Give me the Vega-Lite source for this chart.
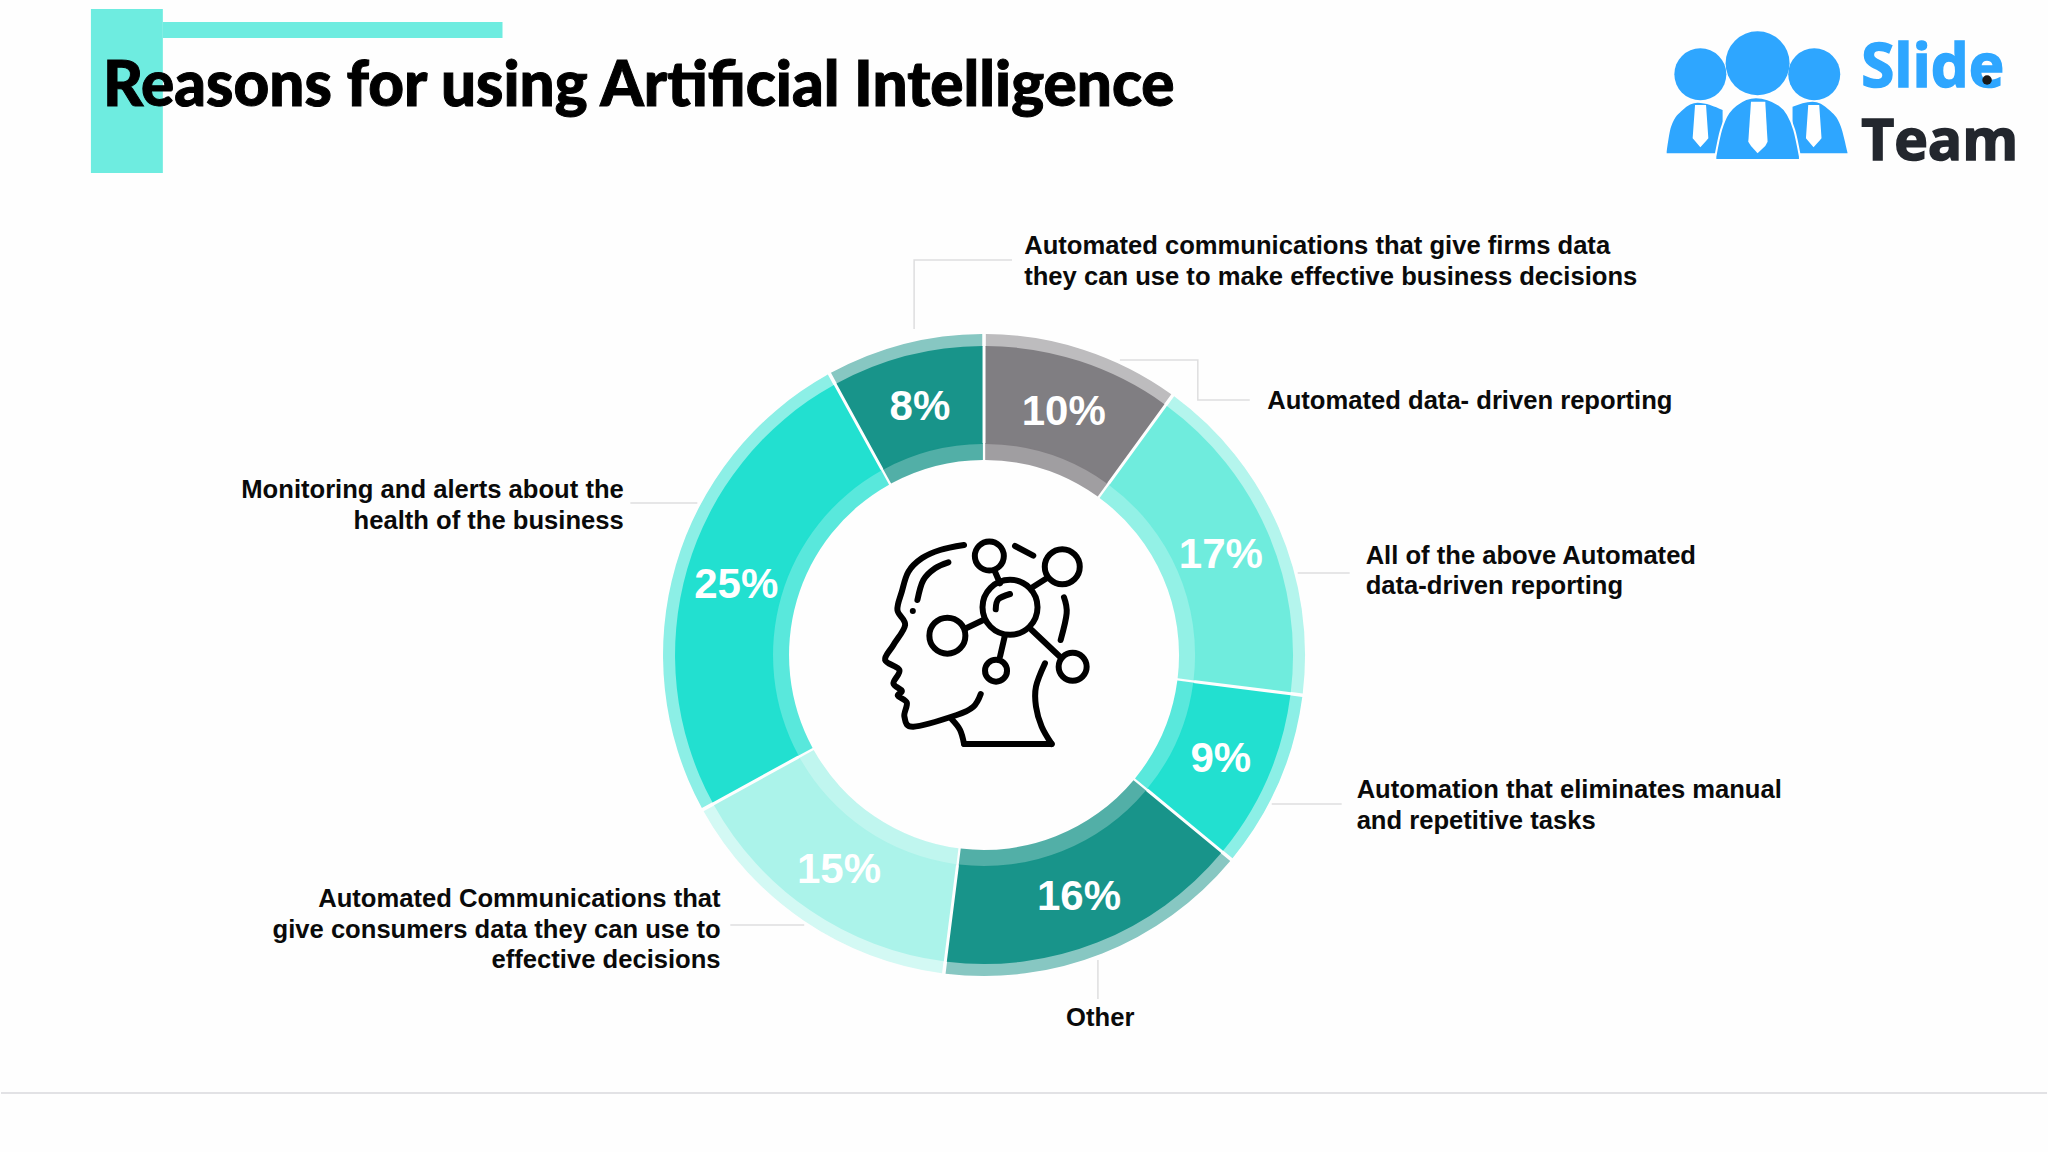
{
  "$schema": "https://vega.github.io/schema/vega-lite/v6.json",
  "width": 2048,
  "height": 1152,
  "padding": 0,
  "autosize": {"type": "fit", "contains": "padding"},
  "background": "#fefefe",
  "config": {"view": {"stroke": null}, "axis": {"disable": true}, "font": "Liberation Sans"},
  "datasets": {
    "reasons": [
      {"rank": 1, "reason": "Automated data- driven reporting", "value": 10, "label": "10%", "note": "Automated data- driven reporting"},
      {"rank": 2, "reason": "All of the above", "value": 17, "label": "17%", "note": ["All of the above Automated", "data-driven reporting"]},
      {"rank": 3, "reason": "Eliminates manual tasks", "value": 9, "label": "9%", "note": ["Automation that eliminates manual", "and repetitive tasks"]},
      {"rank": 4, "reason": "Other", "value": 16, "label": "16%", "note": "Other"},
      {"rank": 5, "reason": "Consumer communications", "value": 15, "label": "15%", "note": ["Automated Communications that", "give consumers data they can use to", "effective decisions"]},
      {"rank": 6, "reason": "Monitoring and alerts", "value": 25, "label": "25%", "note": ["Monitoring and alerts about the", "health of the business"]},
      {"rank": 7, "reason": "Firm communications", "value": 8, "label": "8%", "note": ["Automated communications that give firms data", "they can use to make effective business decisions"]}
    ],
    "leaders": [
      {"p": "8", "i": 1, "x": 914, "y": 329}, {"p": "8", "i": 2, "x": 914, "y": 260}, {"p": "8", "i": 3, "x": 1012, "y": 260},
      {"p": "10", "i": 1, "x": 1120, "y": 360}, {"p": "10", "i": 2, "x": 1198, "y": 360}, {"p": "10", "i": 3, "x": 1198, "y": 400}, {"p": "10", "i": 4, "x": 1250, "y": 400},
      {"p": "17", "i": 1, "x": 1298, "y": 573}, {"p": "17", "i": 2, "x": 1350, "y": 573},
      {"p": "9", "i": 1, "x": 1272, "y": 804}, {"p": "9", "i": 2, "x": 1342, "y": 804},
      {"p": "16", "i": 1, "x": 1098, "y": 960}, {"p": "16", "i": 2, "x": 1098, "y": 999},
      {"p": "15", "i": 1, "x": 730, "y": 925}, {"p": "15", "i": 2, "x": 804, "y": 925},
      {"p": "25", "i": 1, "x": 630, "y": 503}, {"p": "25", "i": 2, "x": 697, "y": 503}
    ],
    "headLines": [
      {"p": "h", "i": 1, "x": 964, "y": 545}, {"p": "h", "i": 2, "x": 940, "y": 550}, {"p": "h", "i": 3, "x": 921.7, "y": 558.3}, {"p": "h", "i": 4, "x": 908.3, "y": 571.7}, {"p": "h", "i": 5, "x": 901.7, "y": 591.7}, {"p": "h", "i": 6, "x": 897.3, "y": 610}, {"p": "h", "i": 7, "x": 905, "y": 625}, {"p": "h", "i": 8, "x": 893.3, "y": 645}, {"p": "h", "i": 9, "x": 885, "y": 660}, {"p": "h", "i": 10, "x": 899.3, "y": 670}, {"p": "h", "i": 11, "x": 893.3, "y": 683.3}, {"p": "h", "i": 12, "x": 901.7, "y": 690.7}, {"p": "h", "i": 13, "x": 897.7, "y": 695.7}, {"p": "h", "i": 14, "x": 906.7, "y": 702.7}, {"p": "h", "i": 15, "x": 904.3, "y": 716.7}, {"p": "h", "i": 16, "x": 913.3, "y": 726.7}, {"p": "h", "i": 17, "x": 956.7, "y": 715}, {"p": "h", "i": 18, "x": 973.3, "y": 706.7}, {"p": "h", "i": 19, "x": 980.7, "y": 694},
      {"p": "b", "i": 1, "x": 917.3, "y": 600}, {"p": "b", "i": 2, "x": 923.3, "y": 580}, {"p": "b", "i": 3, "x": 935, "y": 568.3}, {"p": "b", "i": 4, "x": 948.3, "y": 562.3},
      {"p": "n", "i": 1, "x": 951.7, "y": 719.3}, {"p": "n", "i": 2, "x": 960, "y": 730}, {"p": "n", "i": 3, "x": 964, "y": 744},
      {"p": "s", "i": 1, "x": 964, "y": 744}, {"p": "s", "i": 2, "x": 1051.7, "y": 744},
      {"p": "m", "i": 1, "x": 1051.7, "y": 744}, {"p": "m", "i": 2, "x": 1041.7, "y": 726.7}, {"p": "m", "i": 3, "x": 1036, "y": 706.7}, {"p": "m", "i": 4, "x": 1036, "y": 686.7}, {"p": "m", "i": 5, "x": 1045, "y": 663.3},
      {"p": "d1", "i": 1, "x": 1015, "y": 546}, {"p": "d1", "i": 2, "x": 1033.3, "y": 555.7},
      {"p": "d2", "i": 1, "x": 1064, "y": 597.3}, {"p": "d2", "i": 2, "x": 1066.7, "y": 613.3}, {"p": "d2", "i": 3, "x": 1060.7, "y": 640},
      {"p": "l1", "i": 1, "x": 995, "y": 571.7}, {"p": "l1", "i": 2, "x": 1000, "y": 583.3},
      {"p": "l2", "i": 1, "x": 1033.3, "y": 586.7}, {"p": "l2", "i": 2, "x": 1046.7, "y": 578.3},
      {"p": "l3", "i": 1, "x": 983.3, "y": 620}, {"p": "l3", "i": 2, "x": 966, "y": 628.3},
      {"p": "l4", "i": 1, "x": 1005, "y": 635}, {"p": "l4", "i": 2, "x": 1000, "y": 656.7},
      {"p": "l5", "i": 1, "x": 1031.7, "y": 630}, {"p": "l5", "i": 2, "x": 1060, "y": 656.7},
      {"p": "a", "i": 1, "x": 995.7, "y": 609.3}, {"p": "a", "i": 2, "x": 998.3, "y": 599.3}, {"p": "a", "i": 3, "x": 1010, "y": 594}
    ],
    "headNodes": [
      {"x": 1010, "y": 607.3, "area": 3025},
      {"x": 989.3, "y": 556, "area": 841},
      {"x": 1062.3, "y": 566.7, "area": 1225},
      {"x": 947.3, "y": 635.7, "area": 1296},
      {"x": 996, "y": 670.7, "area": 484},
      {"x": 1072.7, "y": 666.7, "area": 784}
    ],
    "logoBodies": [
      {"p": "left", "x": 1667.3, "y": 151.7, "y2": 153.3}, {"p": "left", "x": 1671.7, "y": 126.7, "y2": 153.3}, {"p": "left", "x": 1683.3, "y": 110, "y2": 153.3}, {"p": "left", "x": 1698.3, "y": 102.7, "y2": 153.3}, {"p": "left", "x": 1723.3, "y": 110, "y2": 153.3},
      {"p": "right", "x": 1793.3, "y": 106.7, "y2": 153.3}, {"p": "right", "x": 1813.3, "y": 101.7, "y2": 153.3}, {"p": "right", "x": 1830, "y": 110, "y2": 153.3}, {"p": "right", "x": 1841.7, "y": 126.7, "y2": 153.3}, {"p": "right", "x": 1848.3, "y": 152.7, "y2": 153.3}
    ],
    "logoCentre": [
      {"x": 1716, "y": 156.7, "y2": 160}, {"x": 1721.7, "y": 130, "y2": 160}, {"x": 1736.7, "y": 105, "y2": 160}, {"x": 1756.7, "y": 97.3, "y2": 160}, {"x": 1780, "y": 105, "y2": 160}, {"x": 1795, "y": 130, "y2": 160}, {"x": 1800.7, "y": 156.7, "y2": 160}
    ],
    "logoTies": [
      {"p": "c", "x": 1749, "y": 141.7, "y2": 141.7}, {"p": "c", "x": 1751.7, "y": 101.7, "y2": 146}, {"p": "c", "x": 1758.3, "y": 101.7, "y2": 153.3}, {"p": "c", "x": 1766, "y": 101.7, "y2": 146}, {"p": "c", "x": 1768.3, "y": 141.7, "y2": 141.7},
      {"p": "l", "x": 1693.3, "y": 138.3, "y2": 138.3}, {"p": "l", "x": 1695.7, "y": 105, "y2": 141}, {"p": "l", "x": 1701, "y": 105, "y2": 147.3}, {"p": "l", "x": 1706.7, "y": 105, "y2": 141}, {"p": "l", "x": 1709, "y": 138.3, "y2": 138.3},
      {"p": "r", "x": 1806.7, "y": 138.3, "y2": 138.3}, {"p": "r", "x": 1809, "y": 105, "y2": 141}, {"p": "r", "x": 1814.3, "y": 105, "y2": 147.3}, {"p": "r", "x": 1820, "y": 105, "y2": 141}, {"p": "r", "x": 1822.3, "y": 138.3, "y2": 138.3}
    ]
  },
  "encoding": {
    "x": {"type": "quantitative", "scale": {"domain": [0, 2048], "nice": false, "zero": false}},
    "y": {"type": "quantitative", "scale": {"domain": [0, 1152], "nice": false, "zero": false, "reverse": true}}
  },
  "layer": [
    {
      "data": {"values": [{"x": 90, "x2": 162, "y": 9, "y2": 173}, {"x": 162, "x2": 502, "y": 22, "y2": 38}]},
      "mark": {"type": "rect", "color": "#6eece0"},
      "encoding": {"x": {"field": "x", "type": "quantitative"}, "x2": {"field": "x2"}, "y": {"field": "y", "type": "quantitative"}, "y2": {"field": "y2"}}
    },
    {
      "data": {"values": [{"x": 0, "x2": 2048, "y": 1093}]},
      "mark": {"type": "rule", "color": "#d9d9dc", "strokeWidth": 1.5},
      "encoding": {"x": {"field": "x", "type": "quantitative"}, "x2": {"field": "x2"}, "y": {"field": "y", "type": "quantitative"}}
    },
    {
      "data": {"values": [{"x": 102, "y": 106, "text": "Reasons for using Artificial Intelligence"}]},
      "mark": {"type": "text", "font": "Lato", "fontWeight": 900, "fontSize": 62, "align": "left", "baseline": "alphabetic", "color": "#000000", "stroke": "#000000", "strokeWidth": 1},
      "encoding": {"x": {"field": "x", "type": "quantitative"}, "y": {"field": "y", "type": "quantitative"}, "text": {"field": "text"}}
    },
    {
      "data": {"name": "leaders"},
      "mark": {"type": "line", "color": "#dededf", "strokeWidth": 1.5},
      "encoding": {"x": {"field": "x", "type": "quantitative"}, "y": {"field": "y", "type": "quantitative"}, "detail": {"field": "p"}, "order": {"field": "i"}}
    },
    {
      "data": {"name": "reasons"},
      "encoding": {
        "x": {"datum": 984, "type": "quantitative"},
        "y": {"datum": 655, "type": "quantitative"},
        "theta": {"field": "value", "type": "quantitative", "stack": true},
        "order": {"field": "rank"},
        "detail": {"field": "reason"}
      },
      "layer": [
        {
          "mark": {"type": "arc", "radius": 321, "radius2": 308, "padAngle": 0.008, "opacity": 0.52},
          "encoding": {"color": {"field": "reason", "type": "nominal", "legend": null, "sort": null, "scale": {"domain": ["Automated data- driven reporting", "All of the above", "Eliminates manual tasks", "Other", "Consumer communications", "Monitoring and alerts", "Firm communications"], "range": ["#807e82", "#6fecdd", "#22e0d0", "#18948a", "#abf3ea", "#22e0d0", "#18948a"]}}}
        },
        {
          "mark": {"type": "arc", "radius": 309, "radius2": 211, "padAngle": 0.008},
          "encoding": {"color": {"field": "reason", "type": "nominal", "legend": null, "sort": null}}
        },
        {
          "mark": {"type": "arc", "radius": 212, "radius2": 195, "padAngle": 0.008, "opacity": 0.75},
          "encoding": {"color": {"field": "reason", "type": "nominal", "legend": null, "sort": null}}
        },
        {
          "mark": {"type": "text", "radius": 258, "dy": 2, "fontSize": 42, "fontWeight": "bold", "color": "#ffffff"},
          "encoding": {"text": {"field": "label"}}
        },
        {
          "mark": {"type": "text", "radius": 321, "dx": 184, "dy": 51, "align": "left", "fontSize": 25.6, "fontWeight": "bold", "lineHeight": 30.5, "color": "#0a0a0a"},
          "encoding": {"text": {"condition": {"test": "datum.rank == 1", "field": "note"}, "value": ""}}
        },
        {
          "mark": {"type": "text", "radius": 321, "dx": 87, "dy": 28, "align": "left", "fontSize": 25.6, "fontWeight": "bold", "lineHeight": 30.5, "color": "#0a0a0a"},
          "encoding": {"text": {"condition": {"test": "datum.rank == 2", "field": "note"}, "value": ""}}
        },
        {
          "mark": {"type": "text", "radius": 321, "dx": 78, "dy": 8, "align": "left", "fontSize": 25.6, "fontWeight": "bold", "lineHeight": 30.5, "color": "#0a0a0a"},
          "encoding": {"text": {"condition": {"test": "datum.rank == 3", "field": "note"}, "value": ""}}
        },
        {
          "mark": {"type": "text", "radius": 321, "dx": -2, "dy": 65, "align": "center", "fontSize": 25.6, "fontWeight": "bold", "lineHeight": 30.5, "color": "#0a0a0a"},
          "encoding": {"text": {"condition": {"test": "datum.rank == 4", "field": "note"}, "value": ""}}
        },
        {
          "mark": {"type": "text", "radius": 321, "dx": -83, "dy": -21, "align": "right", "fontSize": 25.6, "fontWeight": "bold", "lineHeight": 30.5, "color": "#0a0a0a"},
          "encoding": {"text": {"condition": {"test": "datum.rank == 5", "field": "note"}, "value": ""}}
        },
        {
          "mark": {"type": "text", "radius": 321, "dx": -52, "dy": -75, "align": "right", "fontSize": 25.6, "fontWeight": "bold", "lineHeight": 30.5, "color": "#0a0a0a"},
          "encoding": {"text": {"condition": {"test": "datum.rank == 6", "field": "note"}, "value": ""}}
        },
        {
          "mark": {"type": "text", "radius": 321, "dx": 120, "dy": -98, "align": "left", "fontSize": 25.6, "fontWeight": "bold", "lineHeight": 30.5, "color": "#0a0a0a"},
          "encoding": {"text": {"condition": {"test": "datum.rank == 7", "field": "note"}, "value": ""}}
        }
      ]
    },
    {
      "data": {"name": "headLines"},
      "mark": {"type": "line", "color": "#000000", "strokeWidth": 6, "strokeCap": "round", "strokeJoin": "round", "interpolate": "cardinal"},
      "encoding": {"x": {"field": "x", "type": "quantitative"}, "y": {"field": "y", "type": "quantitative"}, "detail": {"field": "p"}, "order": {"field": "i"}}
    },
    {
      "data": {"name": "headNodes"},
      "mark": {"type": "point", "shape": "circle", "filled": false, "color": "#000000", "strokeWidth": 6, "opacity": 1},
      "encoding": {"x": {"field": "x", "type": "quantitative"}, "y": {"field": "y", "type": "quantitative"}, "size": {"field": "area", "type": "quantitative", "scale": null}}
    },
    {
      "data": {"values": [{"x": 912.7, "y": 611, "area": 36}]},
      "mark": {"type": "point", "shape": "circle", "filled": true, "color": "#000000", "opacity": 1},
      "encoding": {"x": {"field": "x", "type": "quantitative"}, "y": {"field": "y", "type": "quantitative"}, "size": {"field": "area", "type": "quantitative", "scale": null}}
    },
    {
      "data": {"name": "logoBodies"},
      "mark": {"type": "area", "color": "#2ea6ff", "interpolate": "monotone"},
      "encoding": {"x": {"field": "x", "type": "quantitative"}, "y": {"field": "y", "type": "quantitative"}, "y2": {"field": "y2"}, "detail": {"field": "p"}}
    },
    {
      "data": {"values": [{"x": 1701, "y": 74.3, "area": 2704}, {"x": 1815, "y": 74.3, "area": 2704}, {"x": 1758.3, "y": 63.3, "area": 4096}]},
      "mark": {"type": "point", "shape": "circle", "filled": true, "color": "#2ea6ff", "opacity": 1},
      "encoding": {"x": {"field": "x", "type": "quantitative"}, "y": {"field": "y", "type": "quantitative"}, "size": {"field": "area", "type": "quantitative", "scale": null}}
    },
    {
      "data": {"name": "logoCentre"},
      "mark": {"type": "area", "color": "#2ea6ff", "stroke": "#ffffff", "strokeWidth": 2, "interpolate": "monotone"},
      "encoding": {"x": {"field": "x", "type": "quantitative"}, "y": {"field": "y", "type": "quantitative"}, "y2": {"field": "y2"}}
    },
    {
      "data": {"name": "logoTies"},
      "mark": {"type": "area", "color": "#ffffff"},
      "encoding": {"x": {"field": "x", "type": "quantitative"}, "y": {"field": "y", "type": "quantitative"}, "y2": {"field": "y2"}, "detail": {"field": "p"}}
    },
    {
      "data": {"values": [{"x": 1862, "y": 87, "text": "Slide"}]},
      "mark": {"type": "text", "font": "Open Sans", "fontWeight": "bold", "fontSize": 60, "align": "left", "baseline": "alphabetic", "color": "#2ea6ff", "stroke": "#2ea6ff", "strokeWidth": 1.5},
      "encoding": {"x": {"field": "x", "type": "quantitative"}, "y": {"field": "y", "type": "quantitative"}, "text": {"field": "text"}}
    },
    {
      "data": {"values": [{"x": 1862, "y": 160, "text": "Team"}]},
      "mark": {"type": "text", "font": "Open Sans", "fontWeight": "bold", "fontSize": 57, "align": "left", "baseline": "alphabetic", "color": "#23272e", "stroke": "#23272e", "strokeWidth": 1.5},
      "encoding": {"x": {"field": "x", "type": "quantitative"}, "y": {"field": "y", "type": "quantitative"}, "text": {"field": "text"}}
    },
    {
      "data": {"values": [{"x": 1988, "y": 80, "area": 90}]},
      "mark": {"type": "point", "shape": "circle", "filled": true, "color": "#1a1a1a", "opacity": 1},
      "encoding": {"x": {"field": "x", "type": "quantitative"}, "y": {"field": "y", "type": "quantitative"}, "size": {"field": "area", "type": "quantitative", "scale": null}}
    }
  ]
}
